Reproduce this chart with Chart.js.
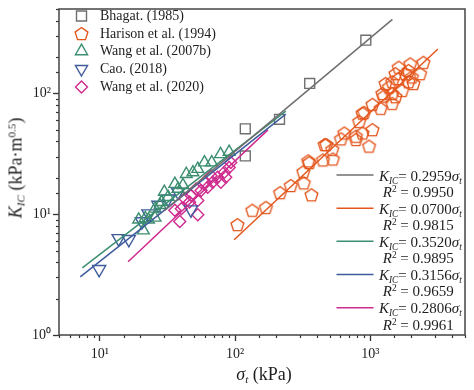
<!DOCTYPE html>
<html><head><meta charset="utf-8">
<script src="https://cdn.jsdelivr.net/npm/chart.js@4.4.1/dist/chart.umd.min.js"></script>
<style>
html,body{margin:0;padding:0;background:#fff;}
#wrap{position:relative;width:474px;height:390px;font-family:'Liberation Serif','Times New Roman',serif;color:#1e1e1e;}
canvas{position:absolute;left:0;top:0;}
.t{position:absolute;white-space:nowrap;}
sub,sup{font-size:0.62em;line-height:0;}
sub{vertical-align:-0.28em;}
sup{vertical-align:0.55em;}
#ytitle{left:16px;top:168px;font-size:18px;transform:translate(-50%,-50%) rotate(-90deg);}
#xtitle{left:264px;top:374px;font-size:18px;transform:translate(-50%,-50%);}
#leg1{left:100px;top:7px;font-size:14px;line-height:17.7px;}
#leg2{left:379px;top:167.5px;font-size:15px;line-height:16.56px;}
</style></head>
<body><div id="wrap"><canvas id="c" width="474" height="390"></canvas>
<div class="t" id="ytitle"><i>K</i><sub><i>IC</i></sub> (kPa·m<sup>0.5</sup>)</div>
<div class="t" id="xtitle"><i>σ<sub>t</sub></i> (kPa)</div>
<div class="t" id="leg1"></div>
<div class="t" id="leg2"></div>
</div>
<script>
// ---- data ----
const seriesNames = ['Bhagat. (1985)','Harison et al. (1994)','Wang et al. (2007b)','Cao. (2018)','Wang et al. (2020)'];
const bhagatX = [119,119,213,356,925];
const bhagatY = [50.9,30.4,61,121,276];
const harisonX = [104,134,169,215,258,322,367,319,353,446,459,528,522,606,641,781,875,977,1035,826,875,1035,1190,1257,1448,1368,1448,1531,1619,1448,1714,1531,1968,1914,2081,2329,2462,2027,1813,1619,1294,1225,898,1914,781,347,472];
const harisonY = [8.21,10.8,11.4,15.1,17.3,18.2,14.5,22.5,26.8,28.2,37.8,28.7,34.5,42.1,47.1,41.6,47.1,36.7,50.2,58.7,68.7,81.3,75.4,95.1,82.9,113,125,146,133,100,106,94,176,155,121,146,181,137,146,165,121,100,69.6,125,44.3,27.7,37.8];
const wang07X = [19.4,21.0,22.9,25.6,25.6,28.5,30.0,32.0,35.9,41.2,43.6,48.8,53.0,59.4,67.2,78.1,90.4,27.9,37.9,21.7];
const wang07Y = [9.02,7.33,9.02,9.36,11.1,12.6,15.3,13.9,17.8,17.4,21.5,22.2,23.7,26.8,26.8,31.4,32.8,11.9,16.2,9.26];
const caoX = [9.9,13.8,16.4,20.5,22.9,27.1,32.0,37.9,47.2];
const caoY = [3.5,6.3,6.2,8.7,10.1,11.9,13.4,15.3,10.9];
const wang20X = [39.0,35.9,40.1,46.1,53.0,47.4,56.1,62.8,68.3,74.3,83.2,90.4,92.9,59.4,66.4,42.5,51.5,78.5,85.3,53.0];
const wang20Y = [8.69,10.8,11.1,12.6,13.0,14.3,15.7,16.7,18.4,20.2,22.2,24.4,26.8,18.4,20.8,13.5,16.2,18.4,20.2,9.9];
// fit lines (end points)
const fitBhagatX = [30,1455],  fitBhagatY = [10.7,410];
const fitHarisonX = [98.4,3155], fitHarisonY = [6.15,233];
const fitWang07X = [7.43,237], fitWang07Y = [3.59,71.3];
const fitCaoX = [7.18,237], fitCaoY = [3.03,67.4];
const fitWang20X = [16.2,175], fitWang20Y = [4.04,49.9];
const fitCoef = ['0.2959','0.0700','0.3520','0.3156','0.2806'];
const fitR2 = ['0.9950','0.9815','0.9895','0.9659','0.9961'];
const xTickValues = [10,100,1000], xTickLabels = ['10¹','10²','10³'];
const yTickValues = [1,10,100], yTickLabels = ['10⁰','10¹','10²'];

const COL = ['#6f6f6f','#E4561C','#3C8E70','#3E5B9C','#CF2A8E'];
const pts = (xs, ys) => xs.map((x,i)=>({x, y: ys[i]}));

// pentagon marker
function makePent(){
  const c = document.createElement('canvas'); c.width=17; c.height=17;
  const g = c.getContext('2d'); g.strokeStyle = COL[1]; g.lineWidth = 1.4; g.beginPath();
  for (let i=0;i<5;i++){ const a=-Math.PI/2+i*2*Math.PI/5; const px=8.5+6.7*Math.cos(a), py=9.2+6.7*Math.sin(a); i?g.lineTo(px,py):g.moveTo(px,py);}
  g.closePath(); g.stroke(); return c;
}
const pent = makePent();

// legend text
document.getElementById('leg1').innerHTML = seriesNames.map(s=>'<div>'+s+'</div>').join('');
document.getElementById('leg2').innerHTML = fitCoef.map((c,i)=>
  '<div><i>K</i><sub><i>IC</i></sub>= '+c+'<i>σ<sub>t</sub></i></div><div>&nbsp;<i>R</i><sup>2</sup> = '+fitR2[i]+'</div>').join('');

const isMajor = v => { const l=Math.log10(v); return Math.abs(l-Math.round(l))<1e-9; };
const lineDs = (xs,ys,c) => ({type:'line', data:pts(xs,ys), borderColor:c, borderWidth:1.5, pointRadius:0, fill:false, showLine:true});
const scatDs = (xs,ys,c,style,r,rot) => ({type:'scatter', data:pts(xs,ys), borderColor:c, backgroundColor:'rgba(0,0,0,0)', pointStyle:style, pointRadius:r, pointRotation:rot||0, pointBorderWidth:1.4});

function drawMarker(ctx, kind, x, y){
  ctx.save(); ctx.lineWidth=1.4;
  if (kind===1){ ctx.drawImage(pent, x-8.5, y-8.5); ctx.restore(); return; }
  ctx.strokeStyle = COL[kind]; ctx.beginPath();
  if (kind===0){ ctx.rect(x-5,y-5,10,10); }
  else if (kind===2 || kind===3){ const r=7, s=kind===2?1:-1; ctx.moveTo(x, y-s*r); ctx.lineTo(x+r*0.866, y+s*r*0.5); ctx.lineTo(x-r*0.866, y+s*r*0.5); ctx.closePath(); }
  else { const r=6; ctx.moveTo(x-r,y); ctx.lineTo(x,y-r); ctx.lineTo(x+r,y); ctx.lineTo(x,y+r); ctx.closePath(); }
  ctx.stroke(); ctx.restore();
}

const extras = {
  id:'extras',
  afterDraw(chart){
    const ctx = chart.ctx, a = chart.chartArea;
    ctx.save();
    // minor ticks
    ctx.strokeStyle='#333'; ctx.lineWidth=1.2;
    const xs = chart.scales.x, ys = chart.scales.y;
    xs.ticks.forEach(t=>{ if(!isMajor(t.value)){ const p=Math.round(xs.getPixelForValue(t.value))+0.5; ctx.beginPath(); ctx.moveTo(p,a.bottom); ctx.lineTo(p,a.bottom+3); ctx.stroke(); }});
    ys.ticks.forEach(t=>{ if(!isMajor(t.value)){ const p=Math.round(ys.getPixelForValue(t.value))+0.5; ctx.beginPath(); ctx.moveTo(a.left,p); ctx.lineTo(a.left-3,p); ctx.stroke(); }});
    // frame
    ctx.strokeStyle='#444'; ctx.lineWidth=1.5;
    ctx.strokeRect(a.left, a.top, a.right-a.left, a.bottom-a.top);
    // legend markers
    const rows = [16,33.5,51.2,69,87];
    rows.forEach((y,i)=>drawMarker(ctx,i,81.5,y));
    // fit legend lines
    const ly = [175,208.3,241.3,274.5,307.7];
    ly.forEach((y,i)=>{ ctx.strokeStyle=COL[i]; ctx.lineWidth=1.5; ctx.beginPath(); ctx.moveTo(336.5,y); ctx.lineTo(373.5,y); ctx.stroke(); });
    ctx.restore();
  }
};

const tickFont = {family:"'Liberation Serif','Times New Roman',serif", size:14};
new Chart(document.getElementById('c'), {
  data:{ datasets:[
    lineDs(fitBhagatX,fitBhagatY,COL[0]),
    lineDs(fitHarisonX,fitHarisonY,COL[1]),
    lineDs(fitWang07X,fitWang07Y,COL[2]),
    lineDs(fitCaoX,fitCaoY,COL[3]),
    lineDs(fitWang20X,fitWang20Y,COL[4]),
    scatDs(bhagatX,bhagatY,COL[0],'rect',7),
    scatDs(harisonX,harisonY,COL[1],pent,7),
    scatDs(wang07X,wang07Y,COL[2],'triangle',6.8),
    scatDs(caoX,caoY,COL[3],'triangle',7.6,180),
    scatDs(wang20X,wang20Y,COL[4],'rectRot',6)
  ]},
  options:{
    responsive:false, animation:false, devicePixelRatio:1,
    layout:{padding:{top:4.4,right:3,left:0,bottom:0}},
    plugins:{legend:{display:false}, tooltip:{enabled:false}},
    scales:{
      x:{ type:'logarithmic', position:'bottom', min:5, max:5000,
        afterFit(s){ s.height=55; s.paddingLeft=0; s.paddingRight=0; },
        border:{display:false},
        grid:{drawOnChartArea:false, drawTicks:true, tickLength:6, tickWidth:1.3, tickColor:c=>isMajor(c.tick.value)?'#333':'rgba(0,0,0,0)'},
        ticks:{autoSkip:false, maxRotation:0, padding:5, color:'#1e1e1e', font:tickFont,
          callback:v=>{ const i=xTickValues.indexOf(v); return i>=0?xTickLabels[i]:''; }}
      },
      y:{ type:'logarithmic', position:'left', min:1, max:500,
        afterFit(s){ s.width=59; s.paddingTop=0; s.paddingBottom=0; },
        border:{display:false},
        grid:{drawOnChartArea:false, drawTicks:true, tickLength:6, tickWidth:1.3, tickColor:c=>isMajor(c.tick.value)?'#333':'rgba(0,0,0,0)'},
        ticks:{autoSkip:false, padding:2, color:'#1e1e1e', font:tickFont,
          callback:v=>{ const i=yTickValues.indexOf(v); return i>=0?yTickLabels[i]:''; }}
      }
    }
  },
  plugins:[extras]
});
</script>
</body></html>
